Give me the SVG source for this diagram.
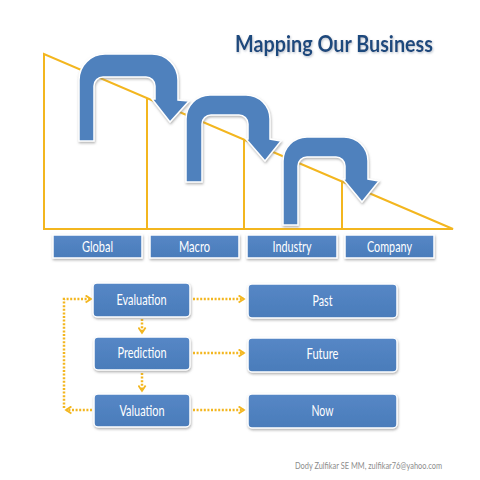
<svg xmlns="http://www.w3.org/2000/svg" width="480" height="480" viewBox="0 0 480 480">
<defs>
<filter id="sh" x="-10%" y="-10%" width="130%" height="140%">
<feDropShadow dx="0.6" dy="1.5" stdDeviation="1" flood-color="#7f7f7f" flood-opacity="0.6"/>
</filter>
<filter id="tsh" x="-5%" y="-20%" width="110%" height="150%">
<feDropShadow dx="0.8" dy="1.2" stdDeviation="0.8" flood-color="#9aa6b5" flood-opacity="0.7"/>
</filter>
<linearGradient id="bx" x1="0" y1="0" x2="0" y2="1">
<stop offset="0" stop-color="#5687c6"/>
<stop offset="1" stop-color="#4a7cba"/>
</linearGradient>
<marker id="chev" viewBox="0 0 10 10" refX="8" refY="5" markerWidth="9" markerHeight="9" markerUnits="userSpaceOnUse" orient="auto">
<path d="M2,1 L8,5 L2,9" fill="none" stroke="#F3B61F" stroke-width="2"/>
</marker>
<style>
.ln{fill:none;stroke:#F3B61F;stroke-width:2}
.arr{fill:#4F81BD;stroke:#ffffff;stroke-width:1.5;filter:url(#sh)}
.box{fill:url(#bx);stroke:#ffffff;stroke-width:1.5;filter:url(#sh)}
.lbl{font-family:Lato,"Open Sans",sans-serif;font-size:15px;fill:#ffffff;text-anchor:middle}
.dot{fill:none;stroke:#F3B61F;stroke-width:2.5;stroke-dasharray:2 1.6}
</style>
</defs>
<rect width="480" height="480" fill="#ffffff"/>
<text x="235" y="52" font-family="Lato,'Open Sans',sans-serif" font-weight="bold" font-size="23" fill="#1F497D" textLength="198" lengthAdjust="spacingAndGlyphs" filter="url(#tsh)">Mapping Our Business</text>
<g id="chart-lines">
<path class="ln" d="M44,229 L44,54 L453,229 Z"/>
<line class="ln" x1="147" y1="98" x2="147" y2="229"/>
<line class="ln" x1="244" y1="140" x2="244" y2="229"/>
<line class="ln" x1="342" y1="181" x2="342" y2="229"/>
</g>
<g id="uturn1"><path class="arr" d="M79,141 L79,80 A26,26 0 0 1 105,54 L152,54 A26,26 0 0 1 178,80 L178,100 L189,101 L170,122 L152,99 L155,99 L155,86 A9,9 0 0 0 146,77 L103,77 A9,9 0 0 0 94,86 L94,141 Z"/></g>
<g id="uturn2"><path class="arr" d="M186,182 L186,119 A24,24 0 0 1 210,95 L246,95 A24,24 0 0 1 270,119 L270,139 L281,141 L265,161 L246,139 L248,139 L248,124 A9,9 0 0 0 239,115 L211,115 A9,9 0 0 0 202,124 L202,182 Z"/></g>
<g id="uturn3"><path class="arr" d="M283,225 L283,161 A24,24 0 0 1 307,137 L344,137 A24,24 0 0 1 368,161 L368,179 L379,181 L362,202 L343,179 L345,179 L345,166 A9,9 0 0 0 336,157 L307,157 A9,9 0 0 0 298,166 L298,225 Z"/></g>
<g id="global"><rect class="box" x="53" y="235" width="89" height="23"/><text class="lbl" x="97.5" y="252" textLength="31" lengthAdjust="spacingAndGlyphs">Global</text></g>
<g id="macro"><rect class="box" x="150" y="235" width="89" height="23"/><text class="lbl" x="194.5" y="252" textLength="31" lengthAdjust="spacingAndGlyphs">Macro</text></g>
<g id="industry"><rect class="box" x="247" y="235" width="90" height="23"/><text class="lbl" x="292" y="252" textLength="39" lengthAdjust="spacingAndGlyphs">Industry</text></g>
<g id="company"><rect class="box" x="345" y="235" width="89" height="23"/><text class="lbl" x="389.5" y="252" textLength="45" lengthAdjust="spacingAndGlyphs">Company</text></g>
<g id="connectors">
<line class="dot" x1="193" y1="299" x2="244" y2="299" marker-end="url(#chev)"/>
<line class="dot" x1="193" y1="353" x2="244" y2="353" marker-end="url(#chev)"/>
<line class="dot" x1="193" y1="410" x2="244" y2="410" marker-end="url(#chev)"/>
<line class="dot" x1="142" y1="319" x2="142" y2="333" marker-end="url(#chev)"/>
<line class="dot" x1="142" y1="373" x2="142" y2="391" marker-end="url(#chev)"/>
<line class="dot" x1="92" y1="410" x2="66" y2="410" marker-end="url(#chev)"/>
<polyline class="dot" points="64,408 64,299 91,299" marker-end="url(#chev)"/>
</g>
<g id="evaluation"><rect class="box" x="93" y="283" width="97" height="34" rx="4"/><text class="lbl" x="141.5" y="305" textLength="50" lengthAdjust="spacingAndGlyphs">Evaluation</text></g>
<g id="prediction"><rect class="box" x="94" y="337" width="96" height="33" rx="4"/><text class="lbl" x="142" y="358" textLength="49" lengthAdjust="spacingAndGlyphs">Prediction</text></g>
<g id="valuation"><rect class="box" x="94" y="394" width="96" height="33" rx="4"/><text class="lbl" x="142" y="415.5" textLength="45" lengthAdjust="spacingAndGlyphs">Valuation</text></g>
<g id="past"><rect class="box" x="248" y="284" width="149" height="34" rx="4"/><text class="lbl" x="322.5" y="305.5" textLength="20" lengthAdjust="spacingAndGlyphs">Past</text></g>
<g id="future"><rect class="box" x="248" y="338" width="149" height="34" rx="4"/><text class="lbl" x="322.5" y="359" textLength="32" lengthAdjust="spacingAndGlyphs">Future</text></g>
<g id="now"><rect class="box" x="248" y="394" width="149" height="34" rx="4"/><text class="lbl" x="322.5" y="415.5" textLength="22" lengthAdjust="spacingAndGlyphs">Now</text></g>
<text x="295" y="469" font-family="Lato,'Open Sans',sans-serif" font-size="9" fill="#8c8c8c" textLength="147" lengthAdjust="spacingAndGlyphs">Dody Zulfikar SE MM, zulfikar76@yahoo.com</text>
</svg>
